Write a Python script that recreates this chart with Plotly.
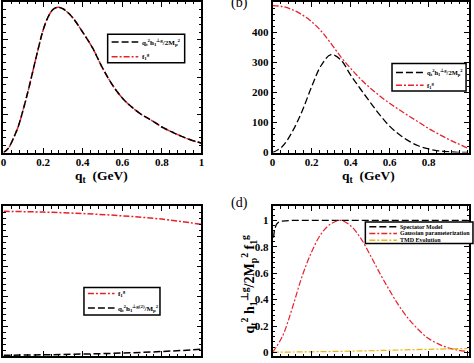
import plotly.graph_objects as go

W, H = 474, 363

# ---------------- data ----------------
# panel (a)
qa = [0, 0.025, 0.05, 0.075, 0.1, 0.125, 0.15, 0.175, 0.2, 0.225, 0.25, 0.275, 0.3, 0.325,
      0.35, 0.4, 0.45, 0.5, 0.55, 0.6, 0.65, 0.7, 0.75, 0.8, 0.85, 0.9, 0.95, 1.0]
ha = [0, 0.12, 0.38, 0.70, 1.15, 1.65, 2.2, 2.75, 3.25, 3.6, 3.8, 3.86, 3.82, 3.72,
      3.58, 3.2, 2.78, 2.25, 1.8, 1.45, 1.2, 1.0, 0.85, 0.68, 0.55, 0.43, 0.33, 0.25]
fa = [0, 0.12, 0.38, 0.70, 1.15, 1.65, 2.2, 2.75, 3.25, 3.6, 3.8, 3.86, 3.82, 3.72,
      3.58, 3.2, 2.78, 2.25, 1.8, 1.45, 1.2, 1.0, 0.85, 0.68, 0.55, 0.43, 0.33, 0.25]

# panel (b)
qb = [0, 0.05, 0.1, 0.15, 0.2, 0.25, 0.3, 0.35, 0.4, 0.45, 0.5, 0.55, 0.6, 0.65, 0.7,
      0.75, 0.8, 0.85, 0.9, 0.95, 1.0]
hb = [0, 20, 68, 135, 218, 290, 325, 308, 258, 212, 168, 125, 88, 60, 38, 22, 12, 6, 3, 1, 0.5]
fb = [488, 485, 475, 458, 435, 403, 362, 318, 280, 245, 215, 188, 164, 142, 121, 101, 80,
      62, 45, 30, 15]

# panel (c)
qc = [0, 0.2, 0.4, 0.6, 0.8, 1.0]
fc = [0.967, 0.962, 0.952, 0.937, 0.915, 0.88]
hc = [0.005, 0.008, 0.013, 0.02, 0.03, 0.045]

# panel (d)
qs = [0.005, 0.01, 0.02, 0.03, 0.05, 0.1, 0.2, 0.4, 0.6, 0.8, 1.0]
spect = [0.87, 0.93, 0.97, 0.985, 0.995, 1.0, 1.0, 1.0, 1.0, 1.0, 1.0]
qd = [0, 0.05, 0.1, 0.15, 0.2, 0.25, 0.3, 0.35, 0.4, 0.45, 0.5, 0.55, 0.6, 0.65, 0.7,
      0.75, 0.8, 0.85, 0.9, 0.95, 1.0]
gauss = [0, 0.12, 0.33, 0.57, 0.76, 0.9, 0.975, 1.0, 0.96, 0.87, 0.74, 0.6, 0.47, 0.35,
         0.25, 0.17, 0.105, 0.065, 0.035, 0.018, 0.008]
qt = [0, 0.2, 0.4, 0.6, 0.8, 1.0]
tmd = [0.002, 0.005, 0.01, 0.017, 0.024, 0.03]

BLACK = "black"
RED = "#e8212b"
YEL = "#e9b710"
DASH = "7px,3px"
DASHDOT = "6px,2px,2px,2px"
FONT = "Liberation Serif"


def px_x(p):
    return p / W


def px_y(p):
    return 1 - p / H


fig = go.Figure()

# panel a
fig.add_trace(go.Scatter(x=qa, y=fa, mode="lines", line=dict(color=RED, width=1.5, dash=DASHDOT, shape="spline"),
                         xaxis="x", yaxis="y", showlegend=False))
fig.add_trace(go.Scatter(x=qa, y=ha, mode="lines", line=dict(color=BLACK, width=1.5, dash=DASH, shape="spline"),
                         xaxis="x", yaxis="y", showlegend=False))
# panel b
fig.add_trace(go.Scatter(x=qb, y=fb, mode="lines", line=dict(color=RED, width=1.3, dash=DASHDOT, shape="spline"),
                         xaxis="x2", yaxis="y2", showlegend=False))
fig.add_trace(go.Scatter(x=qb, y=hb, mode="lines", line=dict(color=BLACK, width=1.3, dash=DASH, shape="spline"),
                         xaxis="x2", yaxis="y2", showlegend=False))
# panel c
fig.add_trace(go.Scatter(x=qc, y=fc, mode="lines", line=dict(color=RED, width=1.5, dash=DASHDOT, shape="spline"),
                         xaxis="x3", yaxis="y3", showlegend=False))
fig.add_trace(go.Scatter(x=qc, y=hc, mode="lines", line=dict(color=BLACK, width=1.5, dash=DASH, shape="spline"),
                         xaxis="x3", yaxis="y3", showlegend=False))
# panel d
fig.add_trace(go.Scatter(x=qs, y=spect, mode="lines", line=dict(color=BLACK, width=1.3, dash=DASH),
                         xaxis="x4", yaxis="y4", showlegend=False))
fig.add_trace(go.Scatter(x=qd, y=gauss, mode="lines", line=dict(color=RED, width=1.2, dash=DASHDOT, shape="spline"),
                         xaxis="x4", yaxis="y4", showlegend=False))
fig.add_trace(go.Scatter(x=qt, y=tmd, mode="lines", line=dict(color=YEL, width=1.2, dash=DASHDOT, shape="spline"),
                         xaxis="x4", yaxis="y4", showlegend=False))


def axis(domain, rng, dtick, minor_dtick, anchor, labels=True, tickvals=None, standoff=0):
    d = dict(domain=domain, range=rng, anchor=anchor, showline=True, linecolor=BLACK, linewidth=1.5,
             mirror="allticks", ticks="inside", ticklen=5, tickwidth=1.2, tickcolor=BLACK,
             showgrid=False, zeroline=False, showticklabels=labels, ticklabelstandoff=standoff,
             tickfont=dict(family=FONT, size=11, color=BLACK, weight="bold"),
             minor=dict(ticks="inside", ticklen=2.5, tickwidth=1, tickcolor=BLACK, dtick=minor_dtick,
                        showgrid=False))
    if tickvals is not None:
        d["tickmode"] = "array"
        d["tickvals"] = tickvals
        d["minor"]["tick0"] = 0
    else:
        d["dtick"] = dtick
        d["tick0"] = 0
    return d


top_dom = [px_y(154), 1.0]
bot_dom = [px_y(362), px_y(209)]
left_dom = [px_x(0.5), px_x(201)]
right_dom = [px_x(273), px_x(472)]

fig.update_layout(
    width=W, height=H, autosize=False, margin=dict(l=0, r=0, t=0, b=0),
    paper_bgcolor="white", plot_bgcolor="white", showlegend=False,
    xaxis=axis(left_dom, [0, 1], 0.2, 0.04, "y", standoff=-2),
    yaxis=axis(top_dom, [0, 4.0], 1, 0.2, "x", labels=False),
    xaxis2=axis(right_dom, [0, 1.0076], 0.2, 0.04, "y2", tickvals=[0, 0.2, 0.4, 0.6, 0.8], standoff=-2),
    yaxis2=axis(top_dom, [0, 500], 100, 20, "x2"),
    xaxis3=axis(left_dom, [0, 1], 0.2, 0.04, "y3", labels=False),
    yaxis3=axis(bot_dom, [0, 1], 0.2, 0.04, "x3", labels=False),
    xaxis4=axis(right_dom, [0, 1.0076], 0.2, 0.04, "y4", labels=False),
    yaxis4=axis(bot_dom, [-0.027, 1.106], 0.2, 0.04, "x4"),
)

shapes = []
annotations = []


def legend_box(x0, y0, x1, y1):
    shapes.append(dict(type="rect", xref="paper", yref="paper", x0=px_x(x0), x1=px_x(x1),
                       y0=px_y(y1), y1=px_y(y0), line=dict(color=BLACK, width=1.5), fillcolor="white",
                       layer="above"))


def legend_item(x0, x1, y, color, dash, text, size):
    shapes.append(dict(type="line", xref="paper", yref="paper", x0=px_x(x0), x1=px_x(x1),
                       y0=px_y(y), y1=px_y(y), line=dict(color=color, width=1.5, dash=dash), layer="above"))
    annotations.append(dict(xref="paper", yref="paper", x=px_x(x1 + 1.5), y=px_y(y), xanchor="left",
                            yanchor="middle", showarrow=False, text=text,
                            font=dict(family=FONT, size=size, color=BLACK, weight="bold")))


H_TXT = "q<sub>t</sub><sup>2</sup>h<sub>1</sub><sup>⊥g</sup>/2M<sub>p</sub><sup>2</sup>"
F_TXT = "f<sub>1</sub><sup>g</sup>"

# legend a
legend_box(106, 33, 184, 62)
legend_item(110, 137, 41, BLACK, DASH, H_TXT, 7)
legend_item(110, 137, 56, RED, DASHDOT, F_TXT, 7)
# legend b
legend_box(394, 63, 469, 91)
legend_item(398, 426, 72, BLACK, DASH, H_TXT, 6.5)
legend_item(398, 426, 85, RED, DASHDOT, F_TXT, 6.5)
# legend c
legend_box(82, 292, 159, 320)
legend_item(86, 113, 298, RED, DASHDOT, F_TXT, 7)
legend_item(86, 113, 313, BLACK, DASH,
            "q<sub>t</sub><sup>2</sup>h<sub>1</sub><sup>⊥g(2)</sup>/M<sub>p</sub><sup>2</sup>", 7)
# legend d
legend_box(367, 225, 476, 247)
legend_item(371, 399, 229.7, BLACK, DASH, "Spectator Model", 6)
legend_item(371, 399, 236.7, RED, DASHDOT, "Gaussian parameterization", 6)
legend_item(371, 399, 243.5, YEL, DASHDOT, "TMD Evolution", 6)

# axis titles
for cx in (100, 370):
    annotations.append(dict(xref="paper", yref="paper", x=px_x(cx), y=px_y(178), xanchor="center",
                            yanchor="middle", showarrow=False, text="q<sub>t</sub>  (GeV)",
                            font=dict(family=FONT, size=13.5, color=BLACK, weight="bold")))
annotations.append(dict(xref="paper", yref="paper", x=px_x(249), y=px_y(288), xanchor="center",
                        yanchor="middle", showarrow=False, textangle=-90,
                        text="q<sub>t</sub><sup>2</sup> h<sub>1</sub><sup>⊥g</sup>/2M<sub>p</sub><sup>2</sup> f<sub>1</sub><sup>g</sup>",
                        font=dict(family=FONT, size=14, color=BLACK, weight="bold")))
# panel labels
annotations.append(dict(xref="paper", yref="paper", x=px_x(240), y=px_y(1), xanchor="center",
                        yanchor="middle", showarrow=False, text="(b)",
                        font=dict(family=FONT, size=14, color=BLACK)))
annotations.append(dict(xref="paper", yref="paper", x=px_x(240), y=px_y(206), xanchor="center",
                        yanchor="middle", showarrow=False, text="(d)",
                        font=dict(family=FONT, size=14, color=BLACK)))

fig.update_layout(shapes=shapes, annotations=annotations)
fig.write_html("out.html", config={"displayModeBar": False},
               post_script="document.body.style.margin='0';document.body.style.overflow='hidden';")
